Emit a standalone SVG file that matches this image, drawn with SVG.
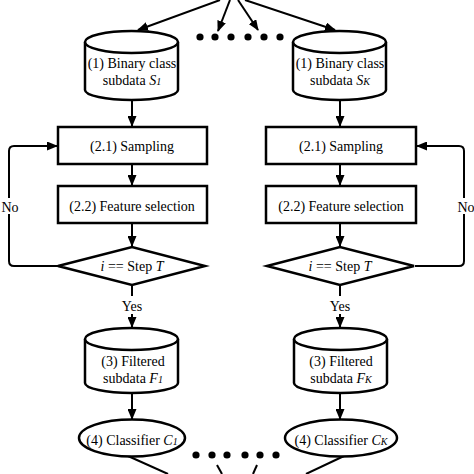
<svg xmlns="http://www.w3.org/2000/svg" width="474" height="474" viewBox="0 0 474 474">
<defs>
<marker id="ah" markerWidth="11" markerHeight="9" refX="10" refY="4.5" orient="auto" markerUnits="userSpaceOnUse">
<path d="M0,0 L11,4.5 L0,9 Z" fill="#000"/>
</marker>
<style>
.s{fill:#fff;stroke:#000;stroke-width:2.5}
.c{fill:none;stroke:#000;stroke-width:2}
.a{fill:none;stroke:#000;stroke-width:2;marker-end:url(#ah)}
text{font-family:"Liberation Serif","Times New Roman",serif;font-size:14px;fill:#000;text-anchor:middle}
.i{font-style:italic}
.sub{font-style:italic;font-size:10px}
.d{fill:#000}
</style>
</defs>
<rect width="474" height="474" fill="#fff"/>

<g id="connectors">
<line class="a" x1="220" y1="0" x2="138" y2="30"/>
<line class="a" x1="230" y1="0" x2="218" y2="31"/>
<line class="a" x1="238" y1="0" x2="258" y2="30"/>
<line class="a" x1="245" y1="0" x2="335" y2="30"/>
<line class="a" x1="132" y1="100" x2="132" y2="126"/>
<line class="a" x1="132" y1="164" x2="132" y2="185"/>
<line class="a" x1="132" y1="223" x2="132" y2="246"/>
<line class="c" x1="132" y1="285" x2="132" y2="296"/>
<line class="a" x1="132" y1="314" x2="132" y2="327"/>
<line class="a" x1="132" y1="393" x2="132" y2="419"/>
<path class="a" d="M58,266 H14 Q9,266 9,261 V151 Q9,146 14,146 H57"/>
<line class="a" x1="340" y1="100" x2="340" y2="126"/>
<line class="a" x1="340" y1="164" x2="340" y2="185"/>
<line class="a" x1="340" y1="223" x2="340" y2="246"/>
<line class="c" x1="340" y1="285" x2="340" y2="296"/>
<line class="a" x1="340" y1="314" x2="340" y2="327"/>
<line class="a" x1="340" y1="393" x2="340" y2="419"/>
<path class="a" d="M415,266 H459 Q464,266 464,261 V151 Q464,146 459,146 H417"/>
<line class="c" x1="128" y1="456" x2="168" y2="474"/>
<line class="c" x1="217" y1="465" x2="222" y2="474"/>
<line class="c" x1="257" y1="465" x2="253" y2="474"/>
<line class="c" x1="344" y1="456" x2="306" y2="474"/>
<rect x="1" y="198" width="18" height="16" fill="#fff"/>
<text x="10" y="212">No</text>
<rect x="457" y="198" width="17" height="16" fill="#fff"/>
<text x="466" y="212">No</text>
<text x="132" y="311">Yes</text>
<text x="340" y="311">Yes</text>
<g class="d">
<circle cx="200" cy="37" r="3.6"/><circle cx="215" cy="37" r="3.6"/><circle cx="231" cy="37" r="3.6"/>
<circle cx="248" cy="37" r="3.6"/><circle cx="264" cy="37" r="3.6"/><circle cx="280" cy="37" r="3.6"/>
<circle cx="196" cy="455" r="3.6"/><circle cx="212" cy="455" r="3.6"/><circle cx="227" cy="455" r="3.6"/>
<circle cx="245" cy="455" r="3.6"/><circle cx="260" cy="455" r="3.6"/><circle cx="276" cy="455" r="3.6"/>
</g>
</g>

<g id="s1">
<path class="s" d="M85,42 V90 A46.5,10 0 0 0 178,90 V42"/>
<ellipse class="s" cx="131.5" cy="42" rx="46.5" ry="11"/>
<text x="132" y="68">(1) Binary class</text>
<text x="132" y="85">subdata <tspan class="i">S</tspan><tspan class="sub">1</tspan></text>
</g>
<g id="sk">
<path class="s" d="M293,42 V90 A46.5,10 0 0 0 386,90 V42"/>
<ellipse class="s" cx="339.5" cy="42" rx="46.5" ry="11"/>
<text x="340" y="68">(1) Binary class</text>
<text x="340" y="85">subdata <tspan class="i">S</tspan><tspan class="sub">K</tspan></text>
</g>

<g id="sampling1">
<rect class="s" x="58" y="127" width="149" height="37"/>
<text x="132" y="151">(2.1) Sampling</text>
</g>
<g id="sampling2">
<rect class="s" x="266" y="127" width="150" height="37"/>
<text x="341" y="151">(2.1) Sampling</text>
</g>
<g id="feature1">
<rect class="s" x="58" y="186" width="149" height="37"/>
<text x="132" y="211">(2.2) Feature selection</text>
</g>
<g id="feature2">
<rect class="s" x="266" y="186" width="150" height="37"/>
<text x="341" y="211">(2.2) Feature selection</text>
</g>

<g id="cond1">
<polygon class="s" points="58,266 132,247 205,266 132,285"/>
<text x="132" y="271"><tspan class="i">i</tspan> == Step <tspan class="i">T</tspan></text>
</g>
<g id="cond2">
<polygon class="s" points="267,266 340,247 414,266 340,285"/>
<text x="340" y="271"><tspan class="i">i</tspan> == Step <tspan class="i">T</tspan></text>
</g>

<g id="f1">
<path class="s" d="M85,339 V383 A46.5,10 0 0 0 178,383 V339"/>
<ellipse class="s" cx="131.5" cy="339" rx="46.5" ry="11"/>
<text x="133" y="366">(3) Filtered</text>
<text x="133" y="383">subdata <tspan class="i">F</tspan><tspan class="sub">1</tspan></text>
</g>
<g id="fk">
<path class="s" d="M294,339 V383 A46.5,10 0 0 0 387,383 V339"/>
<ellipse class="s" cx="340.5" cy="339" rx="46.5" ry="11"/>
<text x="341" y="366">(3) Filtered</text>
<text x="341" y="383">subdata <tspan class="i">F</tspan><tspan class="sub">K</tspan></text>
</g>

<g id="c1">
<ellipse class="s" cx="132" cy="438" rx="53" ry="18.5"/>
<text x="132" y="445">(4) Classifier <tspan class="i">C</tspan><tspan class="sub">1</tspan></text>
</g>
<g id="ck">
<ellipse class="s" cx="341" cy="438" rx="56" ry="18.5"/>
<text x="341" y="445">(4) Classifier <tspan class="i">C</tspan><tspan class="sub">K</tspan></text>
</g>
</svg>
